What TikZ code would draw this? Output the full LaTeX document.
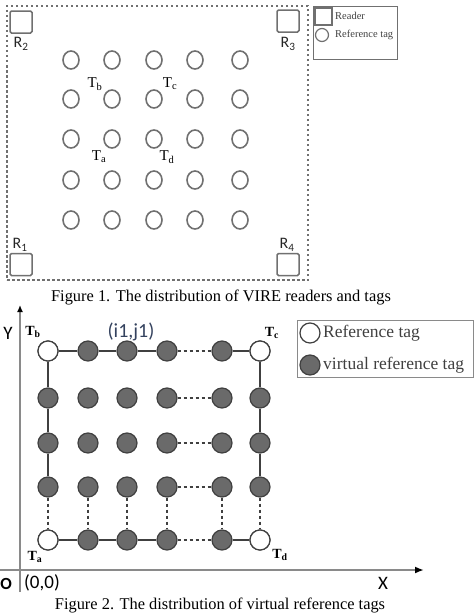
\documentclass[tikz,border=0pt]{standalone}
\usepackage{fontspec}
\setmainfont{Liberation Serif}
\newfontfamily\calib{Carlito}
\usetikzlibrary{arrows.meta,shapes.geometric}
\definecolor{tagg}{HTML}{707070}
\definecolor{dk}{HTML}{404040}
\definecolor{vg}{HTML}{6A6A6A}
\definecolor{axg}{HTML}{8A8A8A}
\definecolor{ijc}{HTML}{34425E}
\begin{document}
\begin{tikzpicture}[x=1pt,y=-1pt,
  reader/.style={draw=tagg, line width=1.5pt, minimum size=22pt, rounded corners=1.5pt, inner sep=0pt},
  rtag/.style={draw=tagg, line width=1.6pt, ellipse, minimum width=16pt, minimum height=18pt, inner sep=0pt},
  vtag/.style={circle, draw=dk, fill=vg, line width=1.2pt, minimum size=20pt, inner sep=0pt},
  wtag/.style={circle, draw=dk, fill=white, line width=1.2pt, minimum size=20pt, inner sep=0pt},
  rlab/.style={font=\calib\fontsize{16}{16}\selectfont, text=black!85, inner sep=0pt},
  tlab/.style={font=\fontsize{15}{15}\selectfont, inner sep=0pt},
  tblab/.style={font=\bfseries\fontsize{14}{14}\selectfont, inner sep=0pt},
  captxt/.style={font=\fontsize{16.4}{16.4}\selectfont, inner sep=0pt},
  link/.style={draw=dk, line width=1.3pt},
  dlink/.style={draw=dk, line width=1.3pt, dash pattern=on 3pt off 3pt},
  axisline/.style={draw=axg, line width=1.8pt},
  axtxt/.style={font=\calib\fontsize{19}{19}\selectfont, inner sep=0pt}]
\useasboundingbox (0,0) rectangle (474,613);

% ---------------- Figure 1 ----------------
\node[draw=tagg, line width=2.2pt, dash pattern=on 2.5pt off 2.5pt, minimum width=301pt, minimum height=274pt, inner sep=0pt] (area) at (157.5,143) {};
\node[reader] (R2) at (21,22) {};
\node[reader] (R3) at (288,21) {};
\node[reader] (R1) at (21,264.5) {};
\node[reader] (R4) at (288,264.5) {};
\node[rlab] (lR2) at (21,44) {R\textsubscript{2}};
\node[rlab] (lR3) at (288,44) {R\textsubscript{3}};
\node[rlab] (lR1) at (20,245) {R\textsubscript{1}};
\node[rlab] (lR4) at (287,245) {R\textsubscript{4}};
\foreach \x [count=\i] in {71,112,154,195,240}
  \foreach \y [count=\j] in {60,99,139,180,220}
    \node[rtag] (t-\i-\j) at (\x,\y) {};
\node[tlab] (lTb) at (95,84) {T\textsubscript{b}};
\node[tlab] (lTc) at (170,84) {T\textsubscript{c}};
\node[tlab] (lTa) at (99,157) {T\textsubscript{a}};
\node[tlab] (lTd) at (167,157) {T\textsubscript{d}};
% legend 1
\node[draw=tagg, line width=1pt, minimum width=84pt, minimum height=53pt, inner sep=0pt] (leg1) at (355,32.5) {};
\node[draw=tagg, line width=1.2pt, minimum size=17pt, inner sep=0pt] (legR) at (323.5,16.5) {};
\node[draw=tagg, line width=1.2pt, circle, minimum size=13pt, inner sep=0pt] (legT) at (322,35) {};
\node[anchor=west, font=\fontsize{10.5}{10.5}\selectfont, text=black!75, inner sep=0pt] (legRt) at (335,16) {Reader};
\node[anchor=west, font=\fontsize{10.5}{10.5}\selectfont, text=black!75, inner sep=0pt] (legTt) at (335,35) {Reference tag};
\node[captxt] (cap1) at (221,297) {Figure 1. The distribution of VIRE readers and tags};

% ---------------- Figure 2 ----------------
\coordinate (ybot) at (20,592);
\coordinate (ytop) at (20,305);
\coordinate (xl) at (0,570);
\coordinate (xr) at (424,570);
\draw[axisline, -{Latex[length=7pt,width=6pt,color=black]}] (ybot) -- (ytop);
\draw[axisline, -{Latex[length=9pt,width=7pt,color=black]}] (xl) -- (xr);
\node[axtxt] (lY) at (8,333) {Y};
\node[axtxt] (lX) at (383,583) {X};
\node[axtxt, font=\calib\bfseries\fontsize{17}{17}\selectfont] (lO) at (6,584) {O};
\node[axtxt] (l00) at (42,583) {(0,0)};

\foreach \x [count=\i] in {48,88,127,167,222,260}
  \foreach \y [count=\j] in {351,398,443,487,540}
    \node[vtag] (g-\i-\j) at (\x,\y) {};
\node[wtag] (g-1-1) at (48,351) {};
\node[wtag] (g-6-1) at (260,351) {};
\node[wtag] (g-1-5) at (48,540) {};
\node[wtag] (g-6-5) at (260,540) {};

% top and bottom rows
\foreach \j in {1,5} {
  \draw[link] (g-1-\j) -- (g-2-\j);
  \draw[link] (g-2-\j) -- (g-3-\j);
  \draw[link] (g-3-\j) -- (g-4-\j);
  \draw[dlink] (g-4-\j) -- (g-5-\j);
  \draw[link] (g-5-\j) -- (g-6-\j);
}
% middle rows
\foreach \j in {2,3,4}
  \draw[dlink] (g-4-\j) -- (g-5-\j);
% left and right columns
\foreach \i in {1,6} {
  \draw[link] (g-\i-1) -- (g-\i-2);
  \draw[link] (g-\i-2) -- (g-\i-3);
  \draw[link] (g-\i-3) -- (g-\i-4);
}
\foreach \i in {1,2,3,4,5,6}
  \draw[dlink] (g-\i-4) -- (g-\i-5);

\node[tblab] (Tb) at (33,332) {T\textsubscript{b}};
\node[tblab] (Tc) at (272,333) {T\textsubscript{c}};
\node[tblab] (Ta) at (35,557) {T\textsubscript{a}};
\node[tblab] (Td) at (280,555) {T\textsubscript{d}};
\node[font=\calib\fontsize{20}{20}\selectfont, text=ijc, inner sep=0pt] (ij) at (131,332) {(i1,j1)};

% legend 2
\node[draw=axg, line width=1pt, minimum width=176pt, minimum height=57pt, inner sep=0pt] (leg2) at (385,348.5) {};
\node[wtag] (legW) at (310,333) {};
\node[vtag] (legV) at (310,365) {};
\node[anchor=west, font=\fontsize{17.5}{17.5}\selectfont, text=black!75, inner sep=0pt] (legWt) at (323,333) {Reference tag};
\node[anchor=west, font=\fontsize{17.5}{17.5}\selectfont, text=black!75, inner sep=0pt] (legVt) at (323,365) {virtual reference tag};
\node[captxt] (cap2) at (220,605) {Figure 2. The distribution of virtual reference tags};
\end{tikzpicture}
\end{document}
